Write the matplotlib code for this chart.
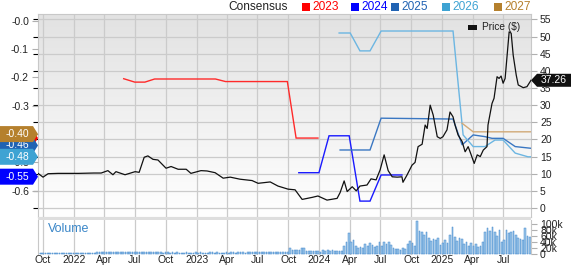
import matplotlib
matplotlib.use("Agg")
import matplotlib.pyplot as plt
import numpy as np
import pandas as pd
from matplotlib.patches import Polygon, Rectangle
from matplotlib.transforms import IdentityTransform
from matplotlib.colors import LinearSegmentedColormap

plt.rcParams['font.family'] = ['Liberation Sans', 'DejaVu Sans']

# ---------------- data ----------------
price_dates = ["2021-09-16", "2021-10-01", "2021-10-16", "2021-11-15", "2022-01-15", "2022-03-01",
               "2022-03-23", "2022-04-12", "2022-04-27", "2022-05-06", "2022-06-02", "2022-07-02",
               "2022-07-14", "2022-07-29", "2022-08-09", "2022-08-24", "2022-09-08", "2022-09-20",
               "2022-10-02", "2022-10-17", "2022-11-07", "2022-12-01", "2022-12-15", "2023-01-14",
               "2023-02-01", "2023-02-25", "2023-03-21", "2023-04-11", "2023-05-10", "2023-06-15",
               "2023-07-03", "2023-08-08", "2023-08-31", "2023-09-30", "2023-10-21", "2023-11-11",
               "2023-12-11", "2023-12-28", "2024-01-24", "2024-02-23", "2024-03-03", "2024-03-15",
               "2024-03-24", "2024-04-08", "2024-04-20", "2024-05-01", "2024-05-22", "2024-06-03",
               "2024-06-18", "2024-06-30", "2024-07-12", "2024-07-24", "2024-08-05", "2024-08-20",
               "2024-09-03", "2024-09-06", "2024-09-18", "2024-10-03", "2024-10-12", "2024-10-21",
               "2024-11-02", "2024-11-11", "2024-11-17", "2024-11-26", "2024-12-05", "2024-12-17",
               "2024-12-26", "2025-01-03", "2025-01-15", "2025-01-24", "2025-02-02", "2025-02-08",
               "2025-02-17", "2025-03-01", "2025-03-10", "2025-03-19", "2025-03-28", "2025-04-06",
               "2025-04-15", "2025-04-24", "2025-05-03", "2025-05-14", "2025-05-17", "2025-05-29",
               "2025-06-04", "2025-06-13", "2025-06-19", "2025-06-25", "2025-07-01", "2025-07-07",
               "2025-07-13", "2025-07-19", "2025-07-25", "2025-07-31", "2025-08-09", "2025-08-15",
               "2025-08-30", "2025-09-10", "2025-09-22"]
price_vals = [10.1, 9.0, 10.0, 10.1, 10.1, 10.2,
              10.2, 10.9, 9.7, 10.6, 9.7, 10.6,
              10.4, 14.8, 15.2, 14.2, 14.0, 12.8,
              11.6, 12.1, 11.3, 11.3, 10.1, 10.9,
              10.8, 10.3, 8.7, 9.0, 8.4, 8.0,
              7.2, 7.6, 6.4, 5.5, 5.3, 2.5,
              3.1, 3.5, 2.3, 2.8, 4.5, 7.9,
              4.8, 6.2, 5.0, 6.4, 6.7, 8.5,
              8.2, 11.1, 15.5, 10.9, 9.1, 9.0,
              9.1, 7.5, 9.6, 12.5, 13.3, 17.9,
              18.6, 24.2, 23.2, 30.0, 27.1, 20.8,
              20.3, 20.8, 22.8, 28.0, 26.6, 24.2,
              21.3, 19.4, 16.4, 17.9, 15.5, 13.0,
              15.5, 15.0, 16.9, 17.9, 24.2, 30.5,
              32.0, 38.3, 37.8, 38.5, 36.4, 37.8,
              44.6, 51.4, 51.0, 44.6, 38.8, 35.9,
              35.1, 35.4, 37.26]

c2023_dates = ["2022-05-29", "2022-07-01", "2022-07-31", "2022-08-29", "2023-02-26",
               "2023-03-28", "2023-09-28", "2023-10-24", "2023-12-28"]
c2023_vals = [-0.205, -0.217, -0.217, -0.206, -0.206, -0.215, -0.215, -0.414, -0.414]

c2024_dates = ["2023-11-01", "2023-12-31", "2024-01-30", "2024-03-30", "2024-05-01",
               "2024-05-31", "2024-07-03", "2024-09-03"]
c2024_vals = [-0.536, -0.536, -0.406, -0.406, -0.636, -0.636, -0.544, -0.544]

c2025_dates = ["2024-03-03", "2024-05-31", "2024-07-03", "2025-02-02", "2025-03-01",
               "2025-04-03", "2025-05-08", "2025-05-29", "2025-07-01", "2025-08-06", "2025-09-22"]
c2025_vals = [-0.456, -0.456, -0.344, -0.347, -0.438, -0.403, -0.409, -0.415, -0.415, -0.444, -0.45]

c2026_dates = ["2024-02-29", "2024-04-02", "2024-05-01", "2024-05-31", "2024-07-03",
               "2025-02-02", "2025-03-04", "2025-04-03", "2025-05-08", "2025-06-07",
               "2025-07-01", "2025-08-06", "2025-09-13", "2025-09-22"]
c2026_vals = [-0.044, -0.044, -0.107, -0.107, -0.037, -0.037, -0.403, -0.444, -0.444,
              -0.421, -0.421, -0.467, -0.48, -0.48]

c2027_dates = ["2025-03-01", "2025-04-03", "2025-09-22"]
c2027_vals = [-0.362, -0.392, -0.392]

# weekly volume (thousands), weeks starting 2021-09-17
vol_start = "2021-09-17"
vol_2021 = [2, 3, 2, 2, 3, 2, 2, 3, 2, 2, 3, 2, 3, 2, 2, 3]
vol_2022a = [2, 3, 3, 2, 3, 2, 3, 4, 3, 5, 6, 7, 6, 5, 8, 6, 5, 6, 7, 5, 6, 5, 6, 7, 8, 6]
vol_2022b = [7, 6, 5, 7, 6, 5, 6, 7, 5, 6, 5, 4, 6, 5, 4, 5, 4, 5, 4, 3, 4, 5, 4, 3, 4, 5]
vol_2023a = [4, 5, 4, 3, 4, 5, 6, 4, 5, 4, 3, 4, 5, 4, 6, 5, 4, 5, 6, 5, 4, 5, 6, 7, 5, 6, 7, 6,
             5, 6, 7, 6, 5, 6, 7]
vol_late = [8, 6, 8, 7, 21, 13, 12, 14, 13, 20,
            19, 10, 9, 11, 10, 9, 10, 8, 13, 11,
            12, 11, 12, 10, 11, 9, 10, 28, 41, 69,
            39, 47, 28, 20, 22, 19, 32, 25, 36, 30,
            22, 28, 39, 25, 39, 32, 39, 30, 20, 17,
            15, 13, 20, 17, 32, 42, 37, 28, 110, 77,
            74, 63, 72, 54, 42, 50, 47, 52, 30, 36,
            47, 36, 63, 91, 58, 42, 54, 50, 32, 40,
            28, 36, 25, 32, 22, 28, 40, 72, 86, 77,
            91, 74, 60, 80, 39, 47, 80, 69, 74, 77,
            63, 52, 50, 47, 86, 60, 55]

tick_dates = ["2021-10-01", "2022-01-01", "2022-04-01", "2022-07-01", "2022-10-01",
              "2023-01-01", "2023-04-01", "2023-07-01", "2023-10-01", "2024-01-01",
              "2024-04-01", "2024-07-01", "2024-10-01", "2025-01-01", "2025-04-01", "2025-07-01"]
tick_labels = ["Oct", "2022", "Apr", "Jul", "Oct", "2023", "Apr", "Jul", "Oct", "2024",
               "Apr", "Jul", "Oct", "2025", "Apr", "Jul"]

# per fiscal year: 2023, 2024, 2025, 2026, 2027
years = ["2023", "2024", "2025", "2026", "2027"]
year_colors = ["#ff0000", "#0000ff", "#2163b3", "#3ea3d3", "#b5802d"]
line_colors = ["#ff2a2a", "#1a1aff", "#3a77c2", "#6cb6e2", "#d2aa78"]
label_texts = ["-0.41", "-0.55", "-0.46", "-0.48", "-0.40"]
label_pos = [-0.414, -0.55, -0.44, -0.48, -0.40]
label_order = [0, 2, 4, 3, 1]   # drawing order (later on top)
last_price_text = "37.26"

# ---------------- figure ----------------
W, H = 571, 266
fig = plt.figure(figsize=(W / 100, H / 100), dpi=100)


def fx(px):
    return px / W


def fy(py):
    return 1 - py / H


L, R = 38, 531
T, B = 14, 217
VT, VB = 219.5, 254.5

xmin = pd.Timestamp("2021-09-16")
xmax = pd.Timestamp("2025-09-22")
p_lim = (-2.63, 56.6)
c_lim = (-0.692, 0.0229)

ax_bg = fig.add_axes([fx(L), fy(B), fx(R) - fx(L), fy(T) - fy(B)])
cmap = LinearSegmentedColormap.from_list("g", ["#e2e2e2", "#ffffff"])
ax_bg.imshow(np.linspace(0, 1, 256).reshape(-1, 1), cmap=cmap, aspect="auto",
             extent=[0, 1, 0, 1], transform=ax_bg.transAxes, zorder=0)
ax_bg.set_xlim(xmin, xmax)
ax_bg.set_ylim(*p_lim)
ax_bg.set_yticks(np.arange(0, 56, 5))
ax_bg.set_xticks(pd.to_datetime(tick_dates))
ax_bg.grid(True, color="#cbcbcb", lw=0.9)
ax_bg.set_axisbelow(True)
ax_bg.tick_params(left=False, bottom=False, labelleft=False, labelbottom=False)
for s in ax_bg.spines.values():
    s.set_color("#c8c8c8")
    s.set_linewidth(0.8)

# consensus axis (left)
axc = ax_bg.twinx()
axc.yaxis.tick_left()
axc.set_ylim(*c_lim)
cticks = [0, -0.1, -0.2, -0.3, -0.4, -0.5, -0.6]
axc.set_yticks(cticks)
axc.set_yticklabels(["-0.0", "-0.1", "-0.2", "-0.3", "-0.4", "-0.5", "-0.6"])
axc.tick_params(axis="y", direction="out", length=4.5, width=0.8, color="#b0b0b0",
                labelsize=7.5, pad=2, labelcolor="#222222", right=False, labelright=False)
for s in axc.spines.values():
    s.set_visible(False)

series = [(c2023_dates, c2023_vals), (c2024_dates, c2024_vals), (c2025_dates, c2025_vals),
          (c2026_dates, c2026_vals), (c2027_dates, c2027_vals)]
for (d, v), col in zip(series, line_colors):
    axc.plot(pd.to_datetime(d), v, color=col, lw=1.0, solid_joinstyle="miter")

# price axis (right)
axp = ax_bg.twinx()
axp.set_ylim(*p_lim)
axp.set_yticks(np.arange(0, 56, 5))
axp.tick_params(axis="y", direction="out", length=4.5, width=0.8, color="#b0b0b0",
                labelsize=7.5, pad=2, labelcolor="#222222")
for s in axp.spines.values():
    s.set_visible(False)
axp.plot(pd.to_datetime(price_dates), price_vals, color="#111111", lw=0.9)
axp.set_xlim(xmin, xmax)

# separator band
fig.add_artist(Rectangle((fx(L), fy(VT)), fx(R) - fx(L), fy(B) - fy(VT),
                         transform=fig.transFigure, color="#dedede", lw=0))

# volume axis
axv = fig.add_axes([fx(L), fy(VB), fx(R) - fx(L), fy(VT) - fy(VB)])
vol = np.array(vol_2021 + vol_2022a + vol_2022b + vol_2023a + vol_late) * 1000
vdates = pd.date_range(vol_start, periods=len(vol), freq="7D")
axv.bar(vdates, vol, width=5.0, facecolor="#9cc6ea", edgecolor="#4589cc", lw=0.35, zorder=2)
axv.set_xlim(xmin, xmax)
axv.set_ylim(-2000, 115000)
axv.set_xticks(pd.to_datetime(tick_dates))
axv.set_xticklabels(tick_labels)
axv.grid(True, axis="x", color="#cbcbcb", lw=0.9)
axv.set_axisbelow(True)
axv.yaxis.tick_right()
axv.set_yticks([0, 20000, 40000, 60000, 80000, 100000])
axv.set_yticklabels(["0", "20k", "40k", "60k", "80k", "100k"])
axv.tick_params(axis="y", direction="out", length=4.5, width=0.8, color="#b0b0b0",
                labelsize=7.5, pad=2, labelcolor="#222222")
axv.tick_params(axis="x", length=0, labelsize=7.5, pad=0.5, labelcolor="#222222")
for s in axv.spines.values():
    s.set_visible(False)
axv.spines["left"].set_visible(True)
axv.spines["left"].set_color("#c8c8c8")
axv.spines["right"].set_visible(True)
axv.spines["right"].set_color("#c8c8c8")
axv.text(0.02, 0.72, "Volume", transform=axv.transAxes, color="#3a86c8",
         fontsize=9, va="center", ha="left")

# ---------------- annotations ----------------
fig.canvas.draw()


def disp_y(py):
    return H - py


# left value labels (each box + text stacked above the previous ones)
for n, k in enumerate(label_order):
    yc = axc.transData.transform((0, label_pos[k]))[1]
    poly = Polygon([(0, yc - 8), (33, yc - 8), (38, yc), (33, yc + 8), (0, yc + 8)],
                   closed=True, transform=IdentityTransform(), facecolor=year_colors[k],
                   edgecolor="none", zorder=10 + 2 * n)
    fig.add_artist(poly)
    fig.text(17 / W, yc / H, label_texts[k], color="white", fontsize=7.5,
             ha="center", va="center", zorder=11 + 2 * n)

# last price label
yp = axp.transData.transform((0, price_vals[-1]))[1]
fig.add_artist(Polygon([(531, yp), (537, yp + 6.5), (571, yp + 6.5), (571, yp - 6.5), (537, yp - 6.5)],
                       closed=True, transform=IdentityTransform(), facecolor="#111111",
                       edgecolor="none", zorder=10))
fig.text(554 / W, yp / H, last_price_text, color="white", fontsize=7.5, ha="center", va="center",
         zorder=11)

# price legend
fig.add_artist(Rectangle((468, disp_y(29.5)), 9, 4.5, transform=IdentityTransform(),
                         facecolor="#111111", edgecolor="none"))
fig.text(482 / W, fy(27), "Price ($)", fontsize=7.3, color="#222222", ha="left", va="center")

# consensus legend
fig.text(fx(228), fy(7), "Consensus", fontsize=8.6, color="#222222", ha="left", va="center")
sq_x = [302, 351, 391, 442, 494]
for x0, yr, col in zip(sq_x, years, year_colors):
    fig.add_artist(Rectangle((x0, disp_y(10.5)), 7.5, 7.5, transform=IdentityTransform(),
                             facecolor=col, edgecolor="none"))
    fig.text(fx(x0 + 10), fy(7), yr, fontsize=8.6, color=col, ha="left", va="center")

fig.savefig("out.png", dpi=100)
